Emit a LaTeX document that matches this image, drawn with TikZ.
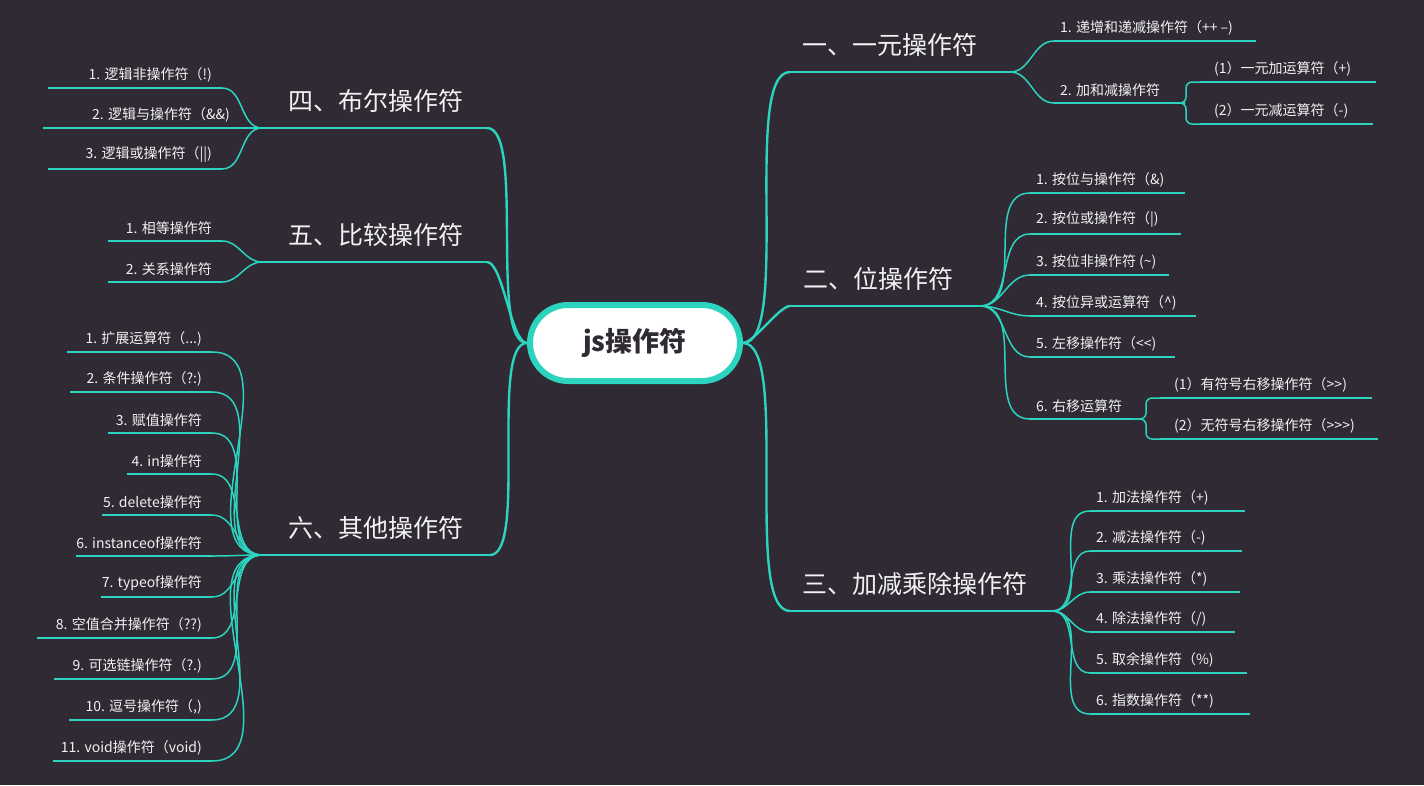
\documentclass[tikz,border=0pt]{standalone}
\usepackage{fontspec}
\setmainfont{Noto Sans CJK SC}
\usetikzlibrary{positioning}
\definecolor{bgc}{HTML}{2F2A33}
\definecolor{teal}{HTML}{2CD3BE}
\definecolor{txt}{HTML}{F2F2F2}
\begin{document}
\begin{tikzpicture}[
    x=1pt, y=-1pt,
    root/.style={draw=teal, line width=6pt, fill=white, rounded corners=38pt, minimum width=210pt, minimum height=76pt, text=bgc, font=\fontsize{27}{30}\selectfont\bfseries},
    topic/.style={text=txt, font=\fontsize{25}{29}\selectfont, anchor=south, inner sep=2pt},
    leaf/.style={text=txt, font=\fontsize{14}{16}\selectfont, inner sep=2pt},
    main/.style={draw=teal, line width=2.4pt},
    sub/.style={draw=teal, line width=1.5pt},
    uline/.style={draw=teal, line width=1.2pt}
]
\fill[bgc] (0,0) rectangle (1424,785);

% centre
\node [root] (root) at (635,343) {js操作符};

% right topics
\coordinate (b1-l) at (790,72);  \coordinate (b1-r) at (1010,72);
\coordinate (b2-l) at (790,306); \coordinate (b2-r) at (980,306);
\coordinate (b3-l) at (790,611); \coordinate (b3-r) at (1052,611);
\node [topic] (b1) at (890,59) {一、一元操作符};
\node [topic] (b2) at (878,293) {二、位操作符};
\node [topic] (b3) at (915,598) {三、加减乘除操作符};
\foreach \b in {b1,b2,b3} {
  \draw [main] (root.east) to[out=0,in=180,looseness=0.45] (\b-l);
  \draw [main] (\b-l) -- (\b-r);
}

% left topics
\coordinate (b4-r) at (487,128); \coordinate (b4-l) at (262,128);
\coordinate (b5-r) at (487,262); \coordinate (b5-l) at (262,262);
\coordinate (b6-r) at (490,555); \coordinate (b6-l) at (262,555);
\node [topic] (b4) at (376,115) {四、布尔操作符};
\node [topic] (b5) at (376,249) {五、比较操作符};
\node [topic] (b6) at (376,542) {六、其他操作符};
\foreach \b in {b4,b5,b6} {
  \draw [main] (root.west) to[out=180,in=0,looseness=0.45] (\b-r);
  \draw [main] (\b-r) -- (\b-l);
}

% right leaves: parent / name / left / right / y / text
\foreach \p/\n/\xl/\xr/\y/\t in {
  b1/c11/1054/1256/41/{1. 递增和递减操作符（++ --)},
  b1/c12/1054/1185/103/{2. 加和减操作符},
  b2/c21/1030/1185/193/{1. 按位与操作符（\&)},
  b2/c22/1030/1181/234/{2. 按位或操作符（|)},
  b2/c23/1030/1169/275/{3. 按位非操作符 (\textasciitilde)},
  b2/c24/1030/1196/316/{4. 按位异或运算符（\textasciicircum)},
  b2/c25/1030/1175/357/{5. 左移操作符（{<}{<})},
  b2/c26/1030/1133/419/{6. 右移运算符},
  b3/c31/1090/1245/511/{1. 加法操作符（+)},
  b3/c32/1090/1242/551/{2. 减法操作符（-)},
  b3/c33/1090/1240/592/{3. 乘法操作符（*)},
  b3/c34/1090/1235/632/{4. 除法操作符（/)},
  b3/c35/1090/1247/673/{5. 取余操作符（\%)},
  b3/c36/1090/1250/714/{6. 指数操作符（**)}} {
  \coordinate (\n-l) at (\xl,\y);
  \coordinate (\n-r) at (\xr,\y);
  \node [leaf, anchor=south west] (\n) at (\xl+4,\y-4) {\t};
  \draw [uline] (\n-l) -- (\n-r);
  \draw [sub] (\p-r) to[out=0,in=180] (\n-l);
}

% left leaves
\foreach \p/\n/\xl/\xr/\y/\t in {
  b4/c41/48/222/88/{1. 逻辑非操作符（!)},
  b4/c42/43/240/128/{2. 逻辑与操作符（\&\&)},
  b4/c43/48/222/169/{3. 逻辑或操作符（||)},
  b5/c51/108/222/241/{1. 相等操作符},
  b5/c52/108/222/282/{2. 关系操作符},
  b6/c61/67/212/352/{1. 扩展运算符（...)},
  b6/c62/70/212/392/{2. 条件操作符（?:)},
  b6/c63/108/212/433/{3. 赋值操作符},
  b6/c64/127/212/474/{4. in操作符},
  b6/c65/102/212/515/{5. delete操作符},
  b6/c66/76/212/556/{6. instanceof操作符},
  b6/c67/101/212/597/{7. typeof操作符},
  b6/c68/37/212/638/{8. 空值合并操作符（??)},
  b6/c69/54/212/679/{9. 可选链操作符（?.)},
  b6/c610/69/212/720/{10. 逗号操作符（,)},
  b6/c611/53/212/761/{11. void操作符（void)}} {
  \coordinate (\n-l) at (\xl,\y);
  \coordinate (\n-r) at (\xr,\y);
  \node [leaf, anchor=south east] (\n) at (\xr-8,\y-4) {\t};
  \draw [uline] (\n-l) -- (\n-r);
  \draw [sub] (\p-l) to[out=180,in=0] (\n-r);
}

% sub leaves with brackets
\foreach \p/\n/\xb/\xl/\xr/\y/\t in {
  c12/d1/1186/1200/1376/82/{(1）一元加运算符（+)},
  c12/d2/1186/1200/1373/124/{(2）一元减运算符（-)},
  c26/d3/1146/1160/1372/398/{(1）有符号右移操作符（{>}{>})},
  c26/d4/1146/1160/1378/439/{(2）无符号右移操作符（{>}{>}{>})}} {
  \coordinate (\n-l) at (\xl,\y);
  \coordinate (\n-r) at (\xr,\y);
  \node [leaf, anchor=south west] (\n) at (\xl+12,\y-4) {\t};
  \draw [uline] (\n-l) -- (\n-r);
  \draw [sub, rounded corners=6pt] (\p-r) -| (\xb,\y) -- (\n-l);
}
\end{tikzpicture}
\end{document}
